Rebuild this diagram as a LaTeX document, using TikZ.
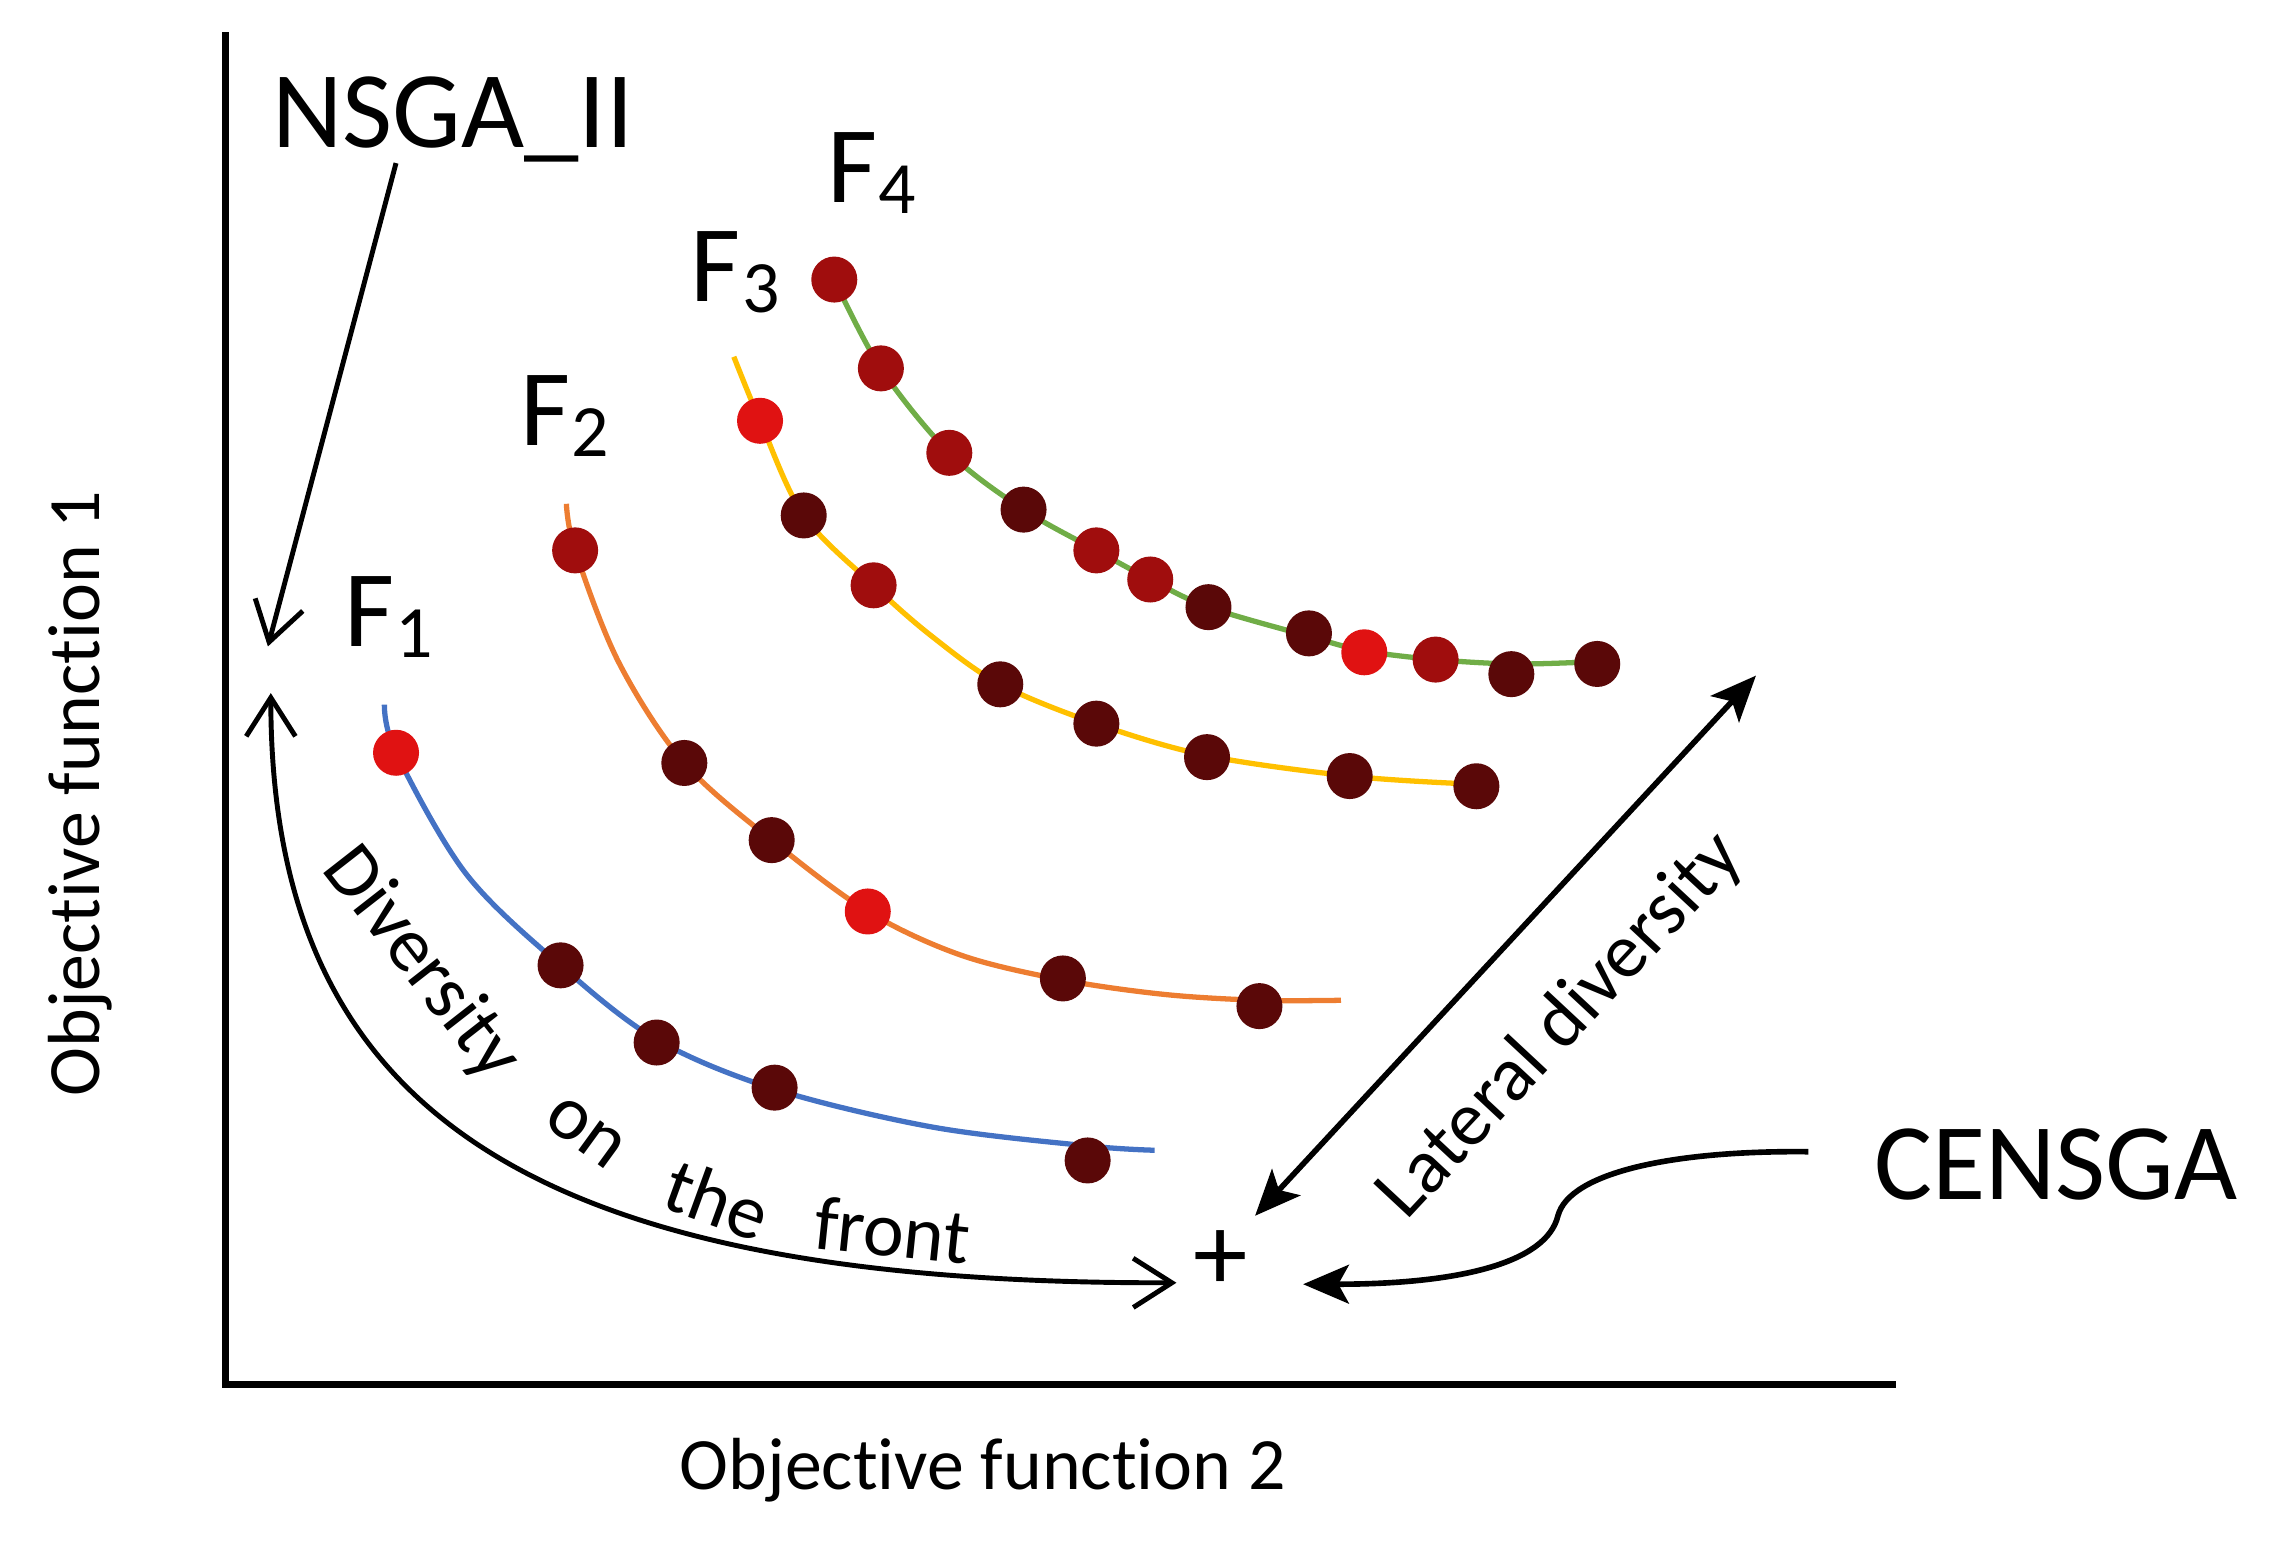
\documentclass[tikz,border=0pt]{standalone}
\usepackage{fontspec}
\setmainfont{Carlito}[Ligatures=NoCommon]
\usetikzlibrary{arrows.meta}
\definecolor{cblue}{HTML}{4472C4}
\definecolor{corange}{HTML}{ED7D31}
\definecolor{cyellow}{HTML}{FFC000}
\definecolor{cgreen}{HTML}{70AD47}
\definecolor{dbright}{HTML}{E01212}
\definecolor{dmed}{HTML}{A00D0D}
\definecolor{ddark}{HTML}{5A0808}
\newcommand{\Fsub}[1]{F\kern0.01em\raisebox{-0.1em}{\fontsize{21}{21}\selectfont #1}}
\tikzset{
  myBarb/.tip={Straight Barb[length=11pt,width=14pt]},
  myStl/.tip={Stealth[length=13pt,width=11pt,inset=3pt]}
}
\begin{document}
\begin{tikzpicture}[x=0.01456cm,y=-0.01456cm,
  axisline/.style={line width=2pt},
  frontline/.style={line width=1.5pt},
  bigtxt/.style={font=\fontsize{31}{31}\selectfont, inner sep=0pt},
  axtxt/.style={font=\fontsize{21}{21}\selectfont, inner sep=0pt},
  divtxt/.style={font=\fontsize{22}{22}\selectfont, inner sep=0pt},
  dot/.style={circle, inner sep=0pt, minimum size=0.46cm, draw=none}
]
\useasboundingbox (0,0) rectangle (1568,1059);

% axes
\coordinate (otop) at (155,22);
\coordinate (orig) at (155,951);
\coordinate (xend) at (1302,951);
\draw[axisline] (otop) -- (orig) -- (xend);

\node[axtxt, rotate=90] (yl) at (55,545) {Objective function 1};
\node[axtxt] (xl) at (675,1010) {Objective function 2};

% fronts
\draw[frontline, cblue] plot[smooth, tension=0.55] coordinates {(264,484) (272,517) (320,600) (385,663) (451,714) (532,748) (640,774) (747,787) (793,790)};
\draw[frontline, corange] plot[smooth, tension=0.55] coordinates {(389,346) (395,378) (425,455) (470,524) (530,577) (596,626) (660,656) (730,673) (800,683) (865,687) (921,687)};
\draw[frontline, cyellow] plot[smooth, tension=0.55] coordinates {(504,245) (522,289) (552,354) (600,402) (640,437) (687,470) (753,497) (829,519) (927,533) (1000,538)};
\draw[frontline, cgreen] plot[smooth, tension=0.55] coordinates {(573,192) (605,253) (652,311) (703,350) (753,378) (790,398) (830,417) (899,437) (937,447) (986,453) (1038,456) (1082,455)};

% dots
\foreach \x/\y/\c [count=\i] in {
  272/517/dbright, 385/663/ddark, 451/716/ddark, 532/747/ddark, 747/797/ddark,
  395/378/dmed, 470/524/ddark, 530/577/ddark, 596/626/dbright, 730/672/ddark, 865/691/ddark,
  522/289/dbright, 552/354/ddark, 600/402/dmed, 687/470/ddark, 753/497/ddark, 829/520/ddark, 927/533/ddark, 1014/540/ddark,
  573/192/dmed, 605/253/dmed, 652/311/dmed, 703/350/ddark, 753/378/dmed, 790/398/dmed, 830/417/ddark, 899/435/ddark, 937/448/dbright, 986/453/dmed, 1038/463/ddark, 1097/456/ddark}
  \node[dot, fill=\c] (p\i) at (\x,\y) {};

% front labels
\node[bigtxt, anchor=base west] (f1) at (236,444) {\Fsub{1}};
\node[bigtxt, anchor=base west] (f2) at (357,306) {\Fsub{2}};
\node[bigtxt, anchor=base west] (f3) at (474,207) {\Fsub{3}};
\node[bigtxt, anchor=base west] (f4) at (568,139) {\Fsub{4}};

% NSGA_II
\node[bigtxt, anchor=base] (nsga) at (311,101) {NSGA\_II};
\coordinate (ns1) at (272,112);
\coordinate (ns2) at (184,444);
\draw[line width=1.4pt, -{myBarb}] (ns1) -- (ns2);

% diversity on the front
\coordinate (dvA) at (186,476);
\coordinate (dvB) at (808,881);
\draw[line width=1.4pt, {myBarb}-{myBarb}] (dvA) .. controls (186,766) and (368,882) .. (dvB);
\node[divtxt, rotate=-52] (dv1) at (289,662) {Diversity};
\node[divtxt, rotate=-36] (dv2) at (402,778) {on};
\node[divtxt, rotate=-20] (dv3) at (493,824) {the};
\node[divtxt, rotate=-6] (dv4) at (613,845) {front};

% plus
\node[bigtxt] (plus) at (838,866) {+};

% lateral diversity
\coordinate (la) at (862,835);
\coordinate (lb) at (1206,464);
\draw[line width=1.6pt, {myStl}-{myStl}] (la) -- (lb);
\node[divtxt, rotate=47] (lat) at (1072,705) {Lateral diversity};

% CENSGA
\node[bigtxt, anchor=base] (cen) at (1412,824) {CENSGA};
\coordinate (c1) at (1242,791);
\coordinate (c2) at (895,882);
\draw[line width=1.6pt, -{myStl}] (c1) .. controls (1150,790) and (1078,805) .. (1070,835) .. controls (1062,868) and (1000,882) .. (c2);
\end{tikzpicture}
\end{document}
